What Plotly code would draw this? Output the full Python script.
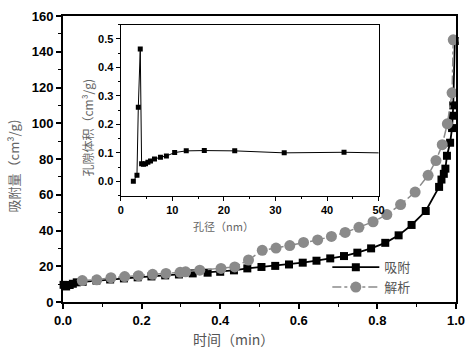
import plotly.graph_objects as go

# Main chart: adsorption (吸附) and desorption (解析)
ads_x = [0.0015, 0.008, 0.017, 0.025, 0.035, 0.05, 0.085, 0.12, 0.155, 0.19, 0.225, 0.26, 0.295,
         0.33, 0.368, 0.40, 0.435, 0.469, 0.505, 0.54, 0.575, 0.61, 0.645, 0.68, 0.715, 0.749,
         0.784, 0.82, 0.854, 0.887, 0.923, 0.957, 0.963, 0.969, 0.973, 0.977, 0.985, 0.99,
         0.992, 0.993, 0.997]
ads_y = [9.6, 8.7, 9.5, 10.2, 11.0, 11.3, 12.0, 12.6, 13.2, 13.8, 14.3, 14.9, 15.4,
         16.0, 16.4, 16.9, 17.7, 18.8, 19.6, 20.2, 21.0, 22.0, 23.1, 24.4, 25.7, 27.6,
         30.0, 33.1, 37.3, 43.1, 50.9, 64.4, 68.5, 71.7, 74.6, 81.8, 89.1, 97.3,
         104.2, 110.0, 146.0]

des_x = [0.049, 0.086, 0.122, 0.157, 0.192, 0.228, 0.262, 0.298, 0.312, 0.348, 0.402, 0.437,
         0.472, 0.507, 0.542, 0.577, 0.612, 0.648, 0.683, 0.718, 0.753, 0.789, 0.824, 0.859,
         0.896, 0.929, 0.949, 0.965, 0.978, 0.99, 0.993]
des_y = [12.0, 12.4, 13.6, 14.2, 14.7, 15.5, 16.0, 16.6, 16.9, 17.8, 18.8, 19.6,
         23.5, 28.9, 30.2, 31.6, 33.3, 34.7, 36.7, 38.9, 41.8, 44.9, 48.9, 54.5,
         61.5, 70.9, 79.1, 88.0, 99.7, 117.0, 146.7]

# Inset: pore size distribution
pore_x = [2.44, 3.14, 3.4, 3.78, 4.04, 4.4, 4.8, 5.26, 5.77, 6.54, 7.7, 8.85, 10.45, 12.7,
          16.2, 22.1, 31.7, 43.3, 56.0]
pore_y = [0.0, 0.021, 0.26, 0.464, 0.062, 0.06, 0.062, 0.067, 0.071, 0.078, 0.085, 0.089,
          0.101, 0.107, 0.108, 0.107, 0.100, 0.102, 0.098]

main_yticks = [0, 20, 40, 60, 80, 100, 120, 140, 160]
main_xticks = [0.0, 0.2, 0.4, 0.6, 0.8, 1.0]
inset_xticks = [0, 10, 20, 30, 40, 50]
inset_yticks = [0.0, 0.1, 0.2, 0.3, 0.4, 0.5]

GRAY = "#8a8a8a"
CJK = "Noto Sans CJK SC"
tickfont_main = dict(family="Liberation Sans", size=13, color="black")
tickfont_inset = dict(family="Liberation Sans", size=11, color="black")

fig = go.Figure()
fig.add_trace(go.Scatter(
    x=ads_x, y=ads_y, name="吸附", mode="lines+markers",
    line=dict(color="black", width=1.8),
    marker=dict(symbol="square", size=8, color="black"),
    cliponaxis=False))
fig.add_trace(go.Scatter(
    x=des_x, y=des_y, name="解析", mode="lines+markers",
    line=dict(color=GRAY, width=1.5, dash="dashdot"),
    marker=dict(symbol="circle", size=11, color=GRAY),
    cliponaxis=False))
fig.add_trace(go.Scatter(
    x=pore_x, y=pore_y, mode="lines+markers", showlegend=False,
    xaxis="x2", yaxis="y2",
    line=dict(color="black", width=1),
    marker=dict(symbol="square", size=5, color="black")))

fig.update_layout(
    width=474, height=352,
    margin=dict(l=63, r=14, t=9, b=50),
    paper_bgcolor="white", plot_bgcolor="white",
    showlegend=True,
    legend=dict(x=0.6726, y=0.174, xanchor="left", yanchor="top",
                bgcolor="rgba(0,0,0,0)", itemwidth=47,
                font=dict(family=CJK, size=13, color="#555555"),
                tracegroupgap=2),
    xaxis=dict(range=[0, 1], tickvals=main_xticks,
               ticktext=[f"<b>{v:.1f}</b>" for v in main_xticks],
               showgrid=False, zeroline=False, showline=True, linecolor="black",
               linewidth=2, mirror=True, ticks="outside", ticklen=5, tickwidth=1.5,
               tickcolor="black", tickfont=tickfont_main,
               minor=dict(dtick=0.1, ticks="outside", ticklen=3, tickwidth=1.2,
                          tickcolor="black")),
    yaxis=dict(range=[0, 160], tickvals=main_yticks,
               ticktext=[f"<b>{v}</b>" for v in main_yticks],
               showgrid=False, zeroline=False, showline=True, linecolor="black",
               linewidth=2, mirror=True, ticks="outside", ticklen=5, tickwidth=1.5,
               tickcolor="black", tickfont=tickfont_main,
               minor=dict(dtick=10, ticks="outside", ticklen=3, tickwidth=1.2,
                          tickcolor="black")),
    xaxis2=dict(domain=[0.147, 0.803], anchor="y2", range=[0, 50], tickvals=inset_xticks,
                ticktext=[f"<b>{v}</b>" for v in inset_xticks],
                showgrid=False, zeroline=False, showline=True, linecolor="black",
                linewidth=1.3, mirror=True, ticks="outside", ticklen=4, tickwidth=1,
                tickcolor="black", tickfont=tickfont_inset,
                minor=dict(dtick=5, ticks="outside", ticklen=2, tickwidth=1,
                           tickcolor="black")),
    yaxis2=dict(domain=[0.372, 0.97], anchor="x2", range=[-0.05, 0.55], tickvals=inset_yticks,
                ticktext=[f"<b>{v:.1f}</b>" for v in inset_yticks],
                showgrid=False, zeroline=False, showline=True, linecolor="black",
                linewidth=1.3, mirror=True, ticks="outside", ticklen=4, tickwidth=1,
                tickcolor="black", tickfont=tickfont_inset,
                minor=dict(dtick=0.05, ticks="outside", ticklen=2, tickwidth=1,
                           tickcolor="black")),
)

fig.add_annotation(text="吸附量（cm³/g)", xref="paper", yref="paper", x=-0.125, y=0.477,
                   xanchor="center", yanchor="middle",
                   textangle=-90, showarrow=False, font=dict(family=CJK, size=13, color="#666666"))
fig.add_annotation(text="时间（min）", xref="paper", yref="paper", x=0.434, y=-0.131,
                   xanchor="center", yanchor="middle",
                   showarrow=False, font=dict(family=CJK, size=14, color="#555555"))
fig.add_annotation(text="孔隙体积（cm³/g)", xref="paper", yref="paper", x=0.0637, y=0.61,
                   xanchor="center", yanchor="middle",
                   textangle=-90, showarrow=False, font=dict(family=CJK, size=12, color="#666666"))
fig.add_annotation(text="孔径（nm）", xref="paper", yref="paper", x=0.409, y=0.266,
                   xanchor="center", yanchor="middle",
                   showarrow=False, font=dict(family=CJK, size=11, color="#666666"))

fig.write_html("out.html")
